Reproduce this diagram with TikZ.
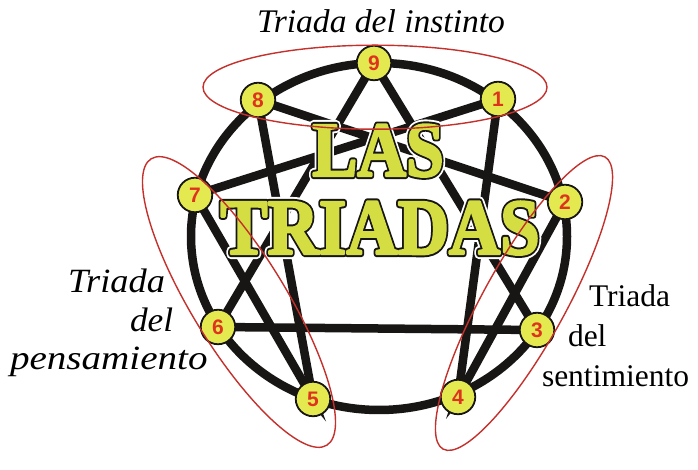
\documentclass[tikz,border=0pt]{standalone}
\usepackage{fontspec}
\setmainfont{Liberation Serif}
\newfontfamily\numfont{Liberation Sans}
\usepackage{graphicx}
\usetikzlibrary{calc}
\definecolor{nodeyellow}{RGB}{228,233,80}
\definecolor{letteryellow}{RGB}{212,222,66}
\definecolor{numred}{RGB}{222,52,30}
\definecolor{ellred}{RGB}{196,48,44}
\definecolor{ink}{RGB}{24,22,20}
\pgfdeclarelayer{back}
\pgfdeclarelayer{front}
\pgfsetlayers{back,main,front}
% #1 width, #2 height, #3 pdf render ops, #4 text
\newcommand{\strokedword}[4]{\resizebox{#1}{#2}{\fontsize{81}{81}\selectfont\bfseries\special{pdf:literal direct #3}#4\special{pdf:literal direct 0 Tr}}}
\tikzset{
  enn/.style={circle, fill=nodeyellow, draw=ink, line width=1.8pt, minimum size=34.5pt, inner sep=0pt,
    font=\numfont\bfseries\fontsize{21}{21}\selectfont, text=numred},
  edgeline/.style={line width=8.5pt, draw=ink},
  triad/.style={draw=ellred, line width=1.4pt},
  lbl/.style={anchor=base west, inner sep=0pt, outer sep=0pt},
  bigword/.style={anchor=south west, inner sep=0pt, outer sep=0pt},
}
\begin{document}
\begin{tikzpicture}[x=1pt,y=1pt]
\useasboundingbox (0,0) rectangle (698,470);
% enneagram points
\node[enn] (n9) at (374,407) {9};
\node[enn] (n1) at (498,371) {1};
\node[enn] (n2) at (565,268) {2};
\node[enn] (n3) at (537,140) {3};
\node[enn] (n4) at (458,73) {4};
\node[enn] (n5) at (313,71) {5};
\node[enn] (n6) at (218,143) {6};
\node[enn] (n7) at (195,275) {7};
\node[enn] (n8) at (258,370) {8};
\begin{pgfonlayer}{back}
  \fill[white] (0,0) rectangle (698,470);
  \coordinate (cc) at (379,233.5);
  \draw[edgeline] (cc) ellipse (188 and 173.5);
  \draw[edgeline] (n9.center) -- (n3.center) -- (n6.center) -- cycle;
  \draw[edgeline] (n1.center) -- (n4.center);
  \draw[edgeline] (n4.center) -- (n2.center);
  \draw[edgeline] (n2.center) -- (n8.center);
  \draw[edgeline] (n8.center) -- (n5.center);
  \draw[edgeline] (n5.center) -- (n7.center);
  \draw[edgeline] (n7.center) -- (n1.center);
  % small spikes beyond 5 and 4
  \coordinate (s5b) at ($(n5)!-8pt!(n7)$);
  \coordinate (s5t) at ($(n5)!-26pt!(n7)$);
  \fill[ink] ($(s5b)!3pt!90:(s5t)$) -- (s5t) -- ($(s5b)!3pt!-90:(s5t)$) -- cycle;
  \coordinate (s4b) at ($(n4)!-8pt!(n2)$);
  \coordinate (s4t) at ($(n4)!-25pt!(n2)$);
  \fill[ink] ($(s4b)!3pt!90:(s4t)$) -- (s4t) -- ($(s4b)!3pt!-90:(s4t)$) -- cycle;
\end{pgfonlayer}
% big title words: white halo, black outline, yellow letters
\coordinate (lasp) at (312.3,293.3);
\coordinate (trip) at (220.3,215.3);
\node[bigword, text=white] (lasw) at (lasp) {\strokedword{131.4pt}{51.4pt}{1 Tr 10.6 w 1 j}{LAS}};
\node[bigword, text=white] (triw) at (trip) {\strokedword{319.4pt}{52.4pt}{1 Tr 10.6 w 1 j}{TRIADAS}};
\node[bigword, text=ink] (lask) at (lasp) {\strokedword{131.4pt}{51.4pt}{1 Tr 6.6 w 1 j}{LAS}};
\node[bigword, text=ink] (trik) at (trip) {\strokedword{319.4pt}{52.4pt}{1 Tr 6.6 w 1 j}{TRIADAS}};
\node[bigword, text=letteryellow] (las) at (lasp) {\strokedword{131.4pt}{51.4pt}{2 Tr 2.6 w 1 j}{LAS}};
\node[bigword, text=letteryellow] (tri) at (trip) {\strokedword{319.4pt}{52.4pt}{2 Tr 2.6 w 1 j}{TRIADAS}};
% labels
\node[lbl] (tinst) at (257,437) {\scalebox{1.017}[1]{\itshape\fontsize{33}{33}\selectfont Triada del instinto}};
\node[lbl] (tp1) at (68,177) {\scalebox{1.07}[1]{\itshape\fontsize{34}{34}\selectfont Triada}};
\node[lbl] (tp2) at (130,138) {\scalebox{1.04}[1]{\itshape\fontsize{34}{34}\selectfont del}};
\node[lbl] (tp3) at (10,100) {\scalebox{1.15}[1]{\itshape\fontsize{34}{34}\selectfont pensamiento}};
\node[lbl] (ts1) at (589,163) {\fontsize{31.5}{31.5}\selectfont Triada};
\node[lbl] (ts2) at (568,123) {\fontsize{31.5}{31.5}\selectfont del};
\node[lbl] (ts3) at (542,83) {\fontsize{31.5}{31.5}\selectfont sentimiento};
% triad ellipses
\begin{pgfonlayer}{front}
  \coordinate (tc) at (375,382.8);
  \coordinate (lc) at (239,168);
  \coordinate (rc) at (524,167);
  \draw[triad] (tc) ellipse (172 and 42);
  \draw[triad, rotate around={-58.5:(lc)}] (lc) ellipse (168 and 47);
  \draw[triad, rotate around={61:(rc)}] (rc) ellipse (167 and 41);
\end{pgfonlayer}
\end{tikzpicture}
\end{document}
